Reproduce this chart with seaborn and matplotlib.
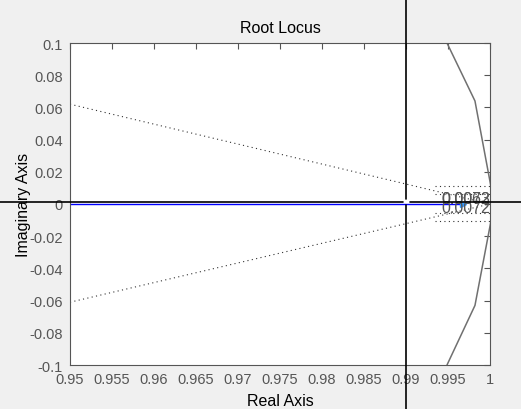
import numpy as np
import pandas as pd
import seaborn as sns
import matplotlib.pyplot as plt

# locus branches
real_branch_x = [0.94, 0.9968]
real_branch_y = [0.0, 0.0]
cplx_branch_x = [0.99488, 0.99821, 1.0005, 0.99821, 0.99488]
cplx_branch_y = [0.1, 0.064, 0.0, -0.063, -0.1]

# damping grid lines (dotted)
damp_x = [0.95, 1.0]
damp_upper_y = [0.062, 0.0]
damp_lower_y = [-0.061, 0.0]
wn_x = [0.9935, 1.0]
wn_levels = [0.011, 0.006, -0.0056, -0.0106]
grid_labels = ["0.0063", "0.0072", "0.0072"]
grid_label_y = [0.0037, 0.0037, -0.0021]

xticks = [0.95, 0.955, 0.96, 0.965, 0.97, 0.975, 0.98, 0.985, 0.99, 0.995, 1.0]
yticks = [-0.1, -0.08, -0.06, -0.04, -0.02, 0, 0.02, 0.04, 0.06, 0.08, 0.1]

# cursor crosshair position
cross_x, cross_y = 0.99004, 0.0015

sns.set_style("white")
plt.rcParams['font.family'] = ['Liberation Sans', 'DejaVu Sans']

fig = plt.figure(figsize=(5.21, 4.10), dpi=100, facecolor='#f0f0f0')
ax = fig.add_axes([70/521, 1-366/410, 420/521, 322/410])
ax.set_facecolor('white')

# grid
for yy in (damp_upper_y, damp_lower_y):
    ax.plot(damp_x, yy, color='#333333', ls=(0, (1, 3)), lw=0.8)
for lv in wn_levels:
    ax.plot(wn_x, [lv, lv], color='#333333', ls=(0, (1, 3)), lw=0.8)
for lab, ly in zip(grid_labels, grid_label_y):
    ax.text(1.0, ly, lab, ha='right', va='center', fontsize=11.5, color='#555555')

df_c = pd.DataFrame({'x': cplx_branch_x, 'y': cplx_branch_y})
sns.lineplot(data=df_c, x='x', y='y', sort=False, estimator=None, color='#707070', lw=1.1, ax=ax)
df_r = pd.DataFrame({'x': real_branch_x, 'y': real_branch_y})
sns.lineplot(data=df_r, x='x', y='y', sort=False, estimator=None, color='#0000ff', lw=1.0, ax=ax)
ax.plot(real_branch_x[-1], 0, marker='>', color='#3399ff', ms=4)

ax.set_xlim(0.95, 1.0)
ax.set_ylim(-0.1, 0.1)
ax.set_xticks(xticks)
ax.set_xticklabels(['%g' % v for v in xticks])
ax.set_yticks(yticks)
ax.set_yticklabels(['%g' % v for v in yticks])
ax.tick_params(direction='in', top=True, right=True, length=4, width=0.8, pad=5,
               colors='#555555', labelsize=10.5, labelcolor='#555555')
for s in ax.spines.values():
    s.set_color('#555555')
    s.set_linewidth(0.8)

ax.set_title('Root Locus', fontsize=11.5, color='black', pad=8)
ax.set_xlabel('Real Axis', fontsize=11.5, color='black', labelpad=5)
ax.set_ylabel('Imaginary Axis', fontsize=11.5, color='black', labelpad=-1)

# crosshair cursor, outside the axes as well
gx, gy = 0.0004, 0.0019
ax.plot([cross_x, cross_x], [0.2, cross_y + gy], color='black', lw=1.2, clip_on=False, zorder=10)
ax.plot([cross_x, cross_x], [cross_y - gy, -0.2], color='black', lw=1.2, clip_on=False, zorder=10)
ax.plot([0.9, cross_x - gx], [cross_y, cross_y], color='black', lw=1.2, clip_on=False, zorder=10)
ax.plot([cross_x + gx, 1.05], [cross_y, cross_y], color='black', lw=1.2, clip_on=False, zorder=10)

fig.savefig('out.png', dpi=100, facecolor=fig.get_facecolor())
